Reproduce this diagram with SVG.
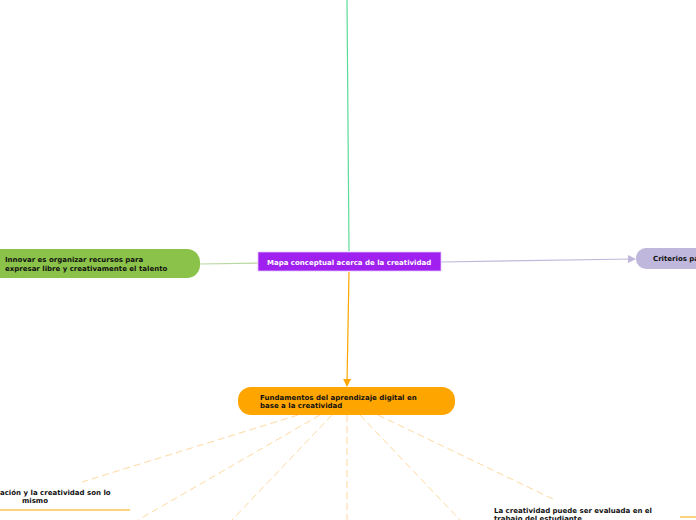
<svg xmlns="http://www.w3.org/2000/svg" width="696" height="520" viewBox="0 0 696 520">
<style>
text{font-family:"DejaVu Sans","Liberation Sans",sans-serif;font-size:7px;font-weight:bold;fill:#111}
.d{stroke:#ffd9a0;stroke-width:1;stroke-dasharray:7,4;fill:none}
</style>
<defs>
<marker id="ao" markerWidth="8" markerHeight="8" refX="4" refY="4" orient="auto" markerUnits="userSpaceOnUse"><path d="M0,0L8,4L0,8z" fill="#ffa500"/></marker>
<marker id="ap" markerWidth="8" markerHeight="8" refX="6" refY="4" orient="auto" markerUnits="userSpaceOnUse"><path d="M0,0L8,4L0,8z" fill="#c0b8dc"/></marker>
</defs>
<rect width="696" height="520" fill="#fff"/>
<g id="connectors">
<path d="M347,0L349,251" stroke="#5ddc98" stroke-width="1.2" fill="none"/>
<path d="M200,264L258,263" stroke="#b8d8a0" stroke-width="1.2" fill="none"/>
<path d="M441,262L634,259" stroke="#c0b8dc" stroke-width="1.2" fill="none" marker-end="url(#ap)"/>
<path d="M349,272L347,383" stroke="#ffa500" stroke-width="1.2" fill="none" marker-end="url(#ao)"/>
<path class="d" d="M298,415L82,482"/>
<path class="d" d="M320,415L138,520"/>
<path class="d" d="M332,415L232,520"/>
<path class="d" d="M347,415L347,520"/>
<path class="d" d="M360,415L460,520"/>
<path class="d" d="M378,415L555,500"/>
<path d="M0,510L130,510" stroke="#ffa500" stroke-width="1"/>
<path d="M680,517L696,517" stroke="#ffa500" stroke-width="1"/>
</g>
<g id="center"><rect x="258" y="252" width="183" height="19" fill="#a020f0" stroke="#e0c0ff" stroke-width="0.8"/><text x="267" y="265" style="fill:#fff">Mapa conceptual acerca de la creatividad</text></g>
<g id="innovar"><rect x="-20" y="249" width="220" height="29" rx="13" fill="#8bc34a"/><text x="5" y="262">Innovar es organizar recursos para</text><text x="5" y="271">expresar libre y creativamente el talento</text></g>
<g id="criterios"><rect x="636" y="248" width="80" height="21" rx="10" fill="#c0b8dc"/><text x="653" y="261">Criterios pa</text></g>
<g id="fundamentos"><rect x="238" y="387" width="217" height="28" rx="13" fill="#ffa500"/><text x="260" y="400">Fundamentos del aprendizaje digital en</text><text x="260" y="408">base a la creatividad</text></g>
<g id="n1"><text x="0" y="495">ación y la creatividad son lo</text><text x="22" y="503">mismo</text></g>
<g id="n2"><text x="494" y="513">La creatividad puede ser evaluada en el</text><text x="494" y="521">trabajo del estudiante</text></g>
</svg>
